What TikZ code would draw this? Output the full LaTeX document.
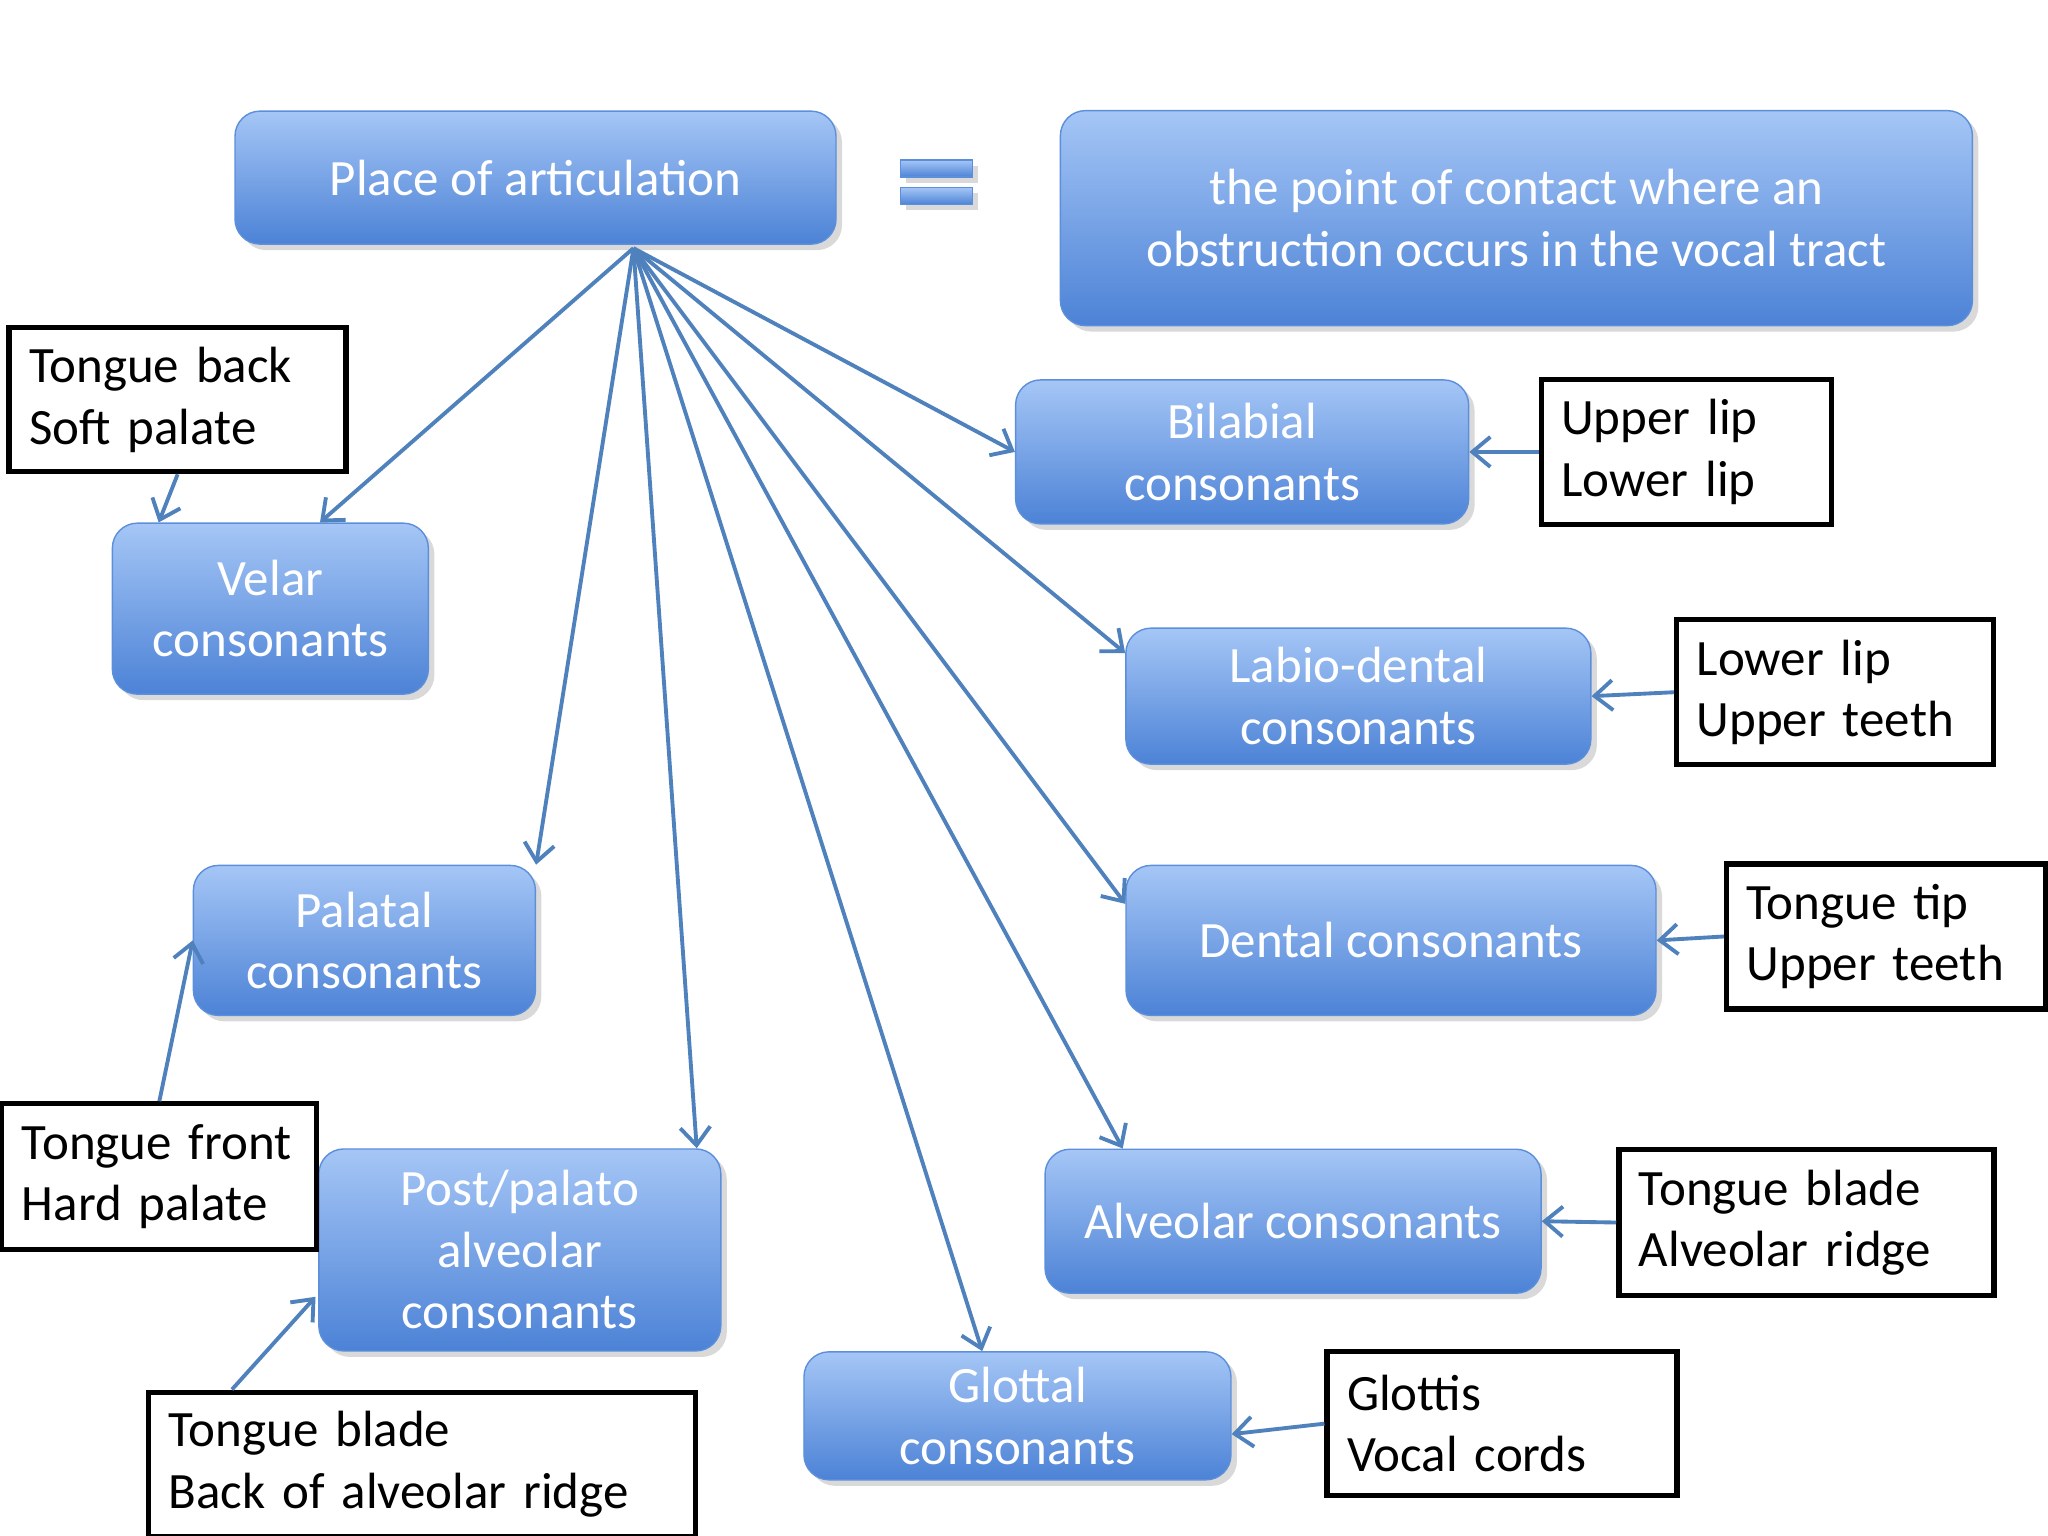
\documentclass[tikz,border=0pt]{standalone}
\usepackage{fontspec}
\setmainfont{Carlito}
\usetikzlibrary{arrows.meta, shadows, calc}
\definecolor{boxtop}{HTML}{A5C6F6}
\definecolor{boxbot}{HTML}{4C82D6}
\definecolor{boxline}{HTML}{5B8FDB}
\definecolor{linkblue}{HTML}{4F81BD}
\begin{document}
\begin{tikzpicture}[x=0.01306cm, y=-0.01306cm, font=\fontsize{14.5}{17.5}\selectfont]
        % Define block styles
        \tikzset{place/.style={rectangle, rounded corners=0.25cm, top color=boxtop, bottom color=boxbot, draw=boxline, text=white, align=center, drop shadow={opacity=0.3, shadow xshift=0.06cm, shadow yshift=-0.06cm}}}
        \tikzset{organs/.style={rectangle, draw=black, line width=1.5pt, align=left, inner xsep=0.2cm, text width=#1}}
        \tikzset{arrow/.style={draw=linkblue, line width=1.1pt, -{Straight Barb[length=0.18cm, width=0.3cm]}}}
        \useasboundingbox (0,0) rectangle (1568,1176);

        % Blue nodes
        \node (poa) [place, minimum width=6.01cm, minimum height=1.33cm] at (410,136) {Place of articulation};
        \node (def) [place, minimum width=9.12cm, minimum height=2.15cm] at (1161,167) {the point of contact where an\\obstruction occurs in the vocal tract};
        \node (bilabial) [place, minimum width=4.53cm, minimum height=1.44cm] at (951,346) {Bilabial\\consonants};
        \node (labio) [place, minimum width=4.65cm, minimum height=1.36cm] at (1040,533) {Labio-dental\\consonants};
        \node (dental) [place, minimum width=5.30cm, minimum height=1.50cm] at (1065,720) {Dental consonants};
        \node (alveolar) [place, minimum width=4.96cm, minimum height=1.44cm] at (990,935) {Alveolar consonants};
        \node (glottal) [place, minimum width=4.27cm, minimum height=1.28cm] at (779,1084) {Glottal\\consonants};
        \node (post) [place, minimum width=4.02cm, minimum height=2.02cm] at (398,957) {Post/palato\\alveolar\\consonants};
        \node (palatal) [place, minimum width=3.42cm, minimum height=1.50cm] at (279,720) {Palatal\\consonants};
        \node (velar) [place, minimum width=3.16cm, minimum height=1.71cm] at (207,466) {Velar\\consonants};

        % Equals sign
        \node (eqtop) [place, rounded corners=0pt, minimum width=0.72cm, minimum height=0.17cm, inner sep=0pt] at (717,129) {};
        \node (eqbot) [place, rounded corners=0pt, minimum width=0.72cm, minimum height=0.17cm, inner sep=0pt] at (717,150) {};

        % Articulator boxes
        \node (tb) [organs=2.97cm, minimum height=1.44cm] at (136,306) {Tongue back\\Soft palate};
        \node (ul) [organs=2.50cm, minimum height=1.45cm] at (1291,346) {Upper lip\\Lower lip};
        \node (ll) [organs=2.77cm, minimum height=1.45cm] at (1405,530) {Lower lip\\Upper teeth};
        \node (tt) [organs=2.79cm, minimum height=1.45cm] at (1444,717) {Tongue tip\\Upper teeth};
        \node (tbl) [organs=3.35cm, minimum height=1.46cm] at (1383,936) {Tongue blade\\Alveolar ridge};
        \node (gl) [organs=3.10cm, minimum height=1.44cm] at (1150,1090) {Glottis\\Vocal cords};
        \node (tf) [organs=2.75cm, minimum height=1.46cm] at (122,901) {Tongue front\\Hard palate};
        \node (tbb) [organs=5.07cm, minimum height=1.44cm] at (323,1121) {Tongue blade\\Back of alveolar ridge};

        % Arrows from the hub
        \coordinate (hub) at (485,190);
        \draw [arrow] (hub) -- ($(velar.north)+(38,0)$);
        \draw [arrow] (hub) -- (palatal.north east);
        \draw [arrow] (hub) -- ($(post.north east)+(-19,0)$);
        \draw [arrow] (hub) -- ($(glottal.north)+(-27,0)$);
        \draw [arrow] (hub) -- ($(alveolar.north west)+(60,0)$);
        \draw [arrow] (hub) -- ($(dental.west)+(0,-28)$);
        \draw [arrow] (hub) -- ($(labio.west)+(0,-33)$);
        \draw [arrow] (hub) -- (bilabial.west);

        % Articulators
        \draw [arrow] (tb.south) -- ($(velar.north west)+(36,0)$);
        \draw [arrow] (ul.west) -- (bilabial.east);
        \draw [arrow] (ll.west) -- (labio.east);
        \draw [arrow] (tt.west) -- (dental.east);
        \draw [arrow] (tbl.west) -- (alveolar.east);
        \draw [arrow] (gl.west) -- ($(glottal.east)+(0,14)$);
        \draw [arrow] (tf.north) -- (palatal.west);
        \draw [arrow] ($(tbb.north west)+(66,0)$) -- ($(post.south west)+(-2,-42)$);
    \end{tikzpicture}
\end{document}
